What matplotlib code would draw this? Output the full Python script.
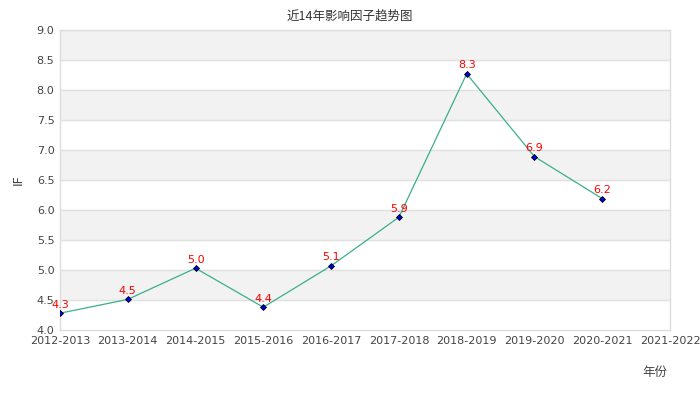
import matplotlib.pyplot as plt

plt.rcParams['font.family'] = ['DejaVu Sans', 'Noto Sans CJK SC']

years = ['2012-2013', '2013-2014', '2014-2015', '2015-2016', '2016-2017',
         '2017-2018', '2018-2019', '2019-2020', '2020-2021', '2021-2022']
impact = [4.28, 4.51, 5.03, 4.38, 5.07, 5.88, 8.27, 6.89, 6.19]
labels = ['4.3', '4.5', '5.0', '4.4', '5.1', '5.9', '8.3', '6.9', '6.2']

fig = plt.figure(figsize=(7, 4), dpi=100)
ax = fig.add_axes([60/700, 70/400, 610/700, 300/400])

# alternating bands
for lo in [4.5, 5.5, 6.5, 7.5, 8.5]:
    ax.axhspan(lo, lo + 0.5, color='#f2f2f2', zorder=0)
for y in [4.5, 5.0, 5.5, 6.0, 6.5, 7.0, 7.5, 8.0, 8.5, 9.0]:
    ax.axhline(y, color='#e0e0e0', lw=1, zorder=1)

x = list(range(len(impact)))
ax.plot(x, impact, color='#3aaf8c', lw=0.9, zorder=2)
ax.scatter(x, impact, marker='D', s=9, color='#0000ee', edgecolors='black',
           linewidths=0.6, zorder=3)
for xi, yi, t in zip(x, impact, labels):
    ax.text(xi, yi + 0.06, t, color='red', fontsize=8, ha='center', va='bottom', zorder=4)

ax.set_xlim(0, 9)
ax.set_ylim(4.0, 9.0)
ax.set_xticks(range(len(years)))
ax.set_xticklabels(years)
ax.set_yticks([4.0, 4.5, 5.0, 5.5, 6.0, 6.5, 7.0, 7.5, 8.0, 8.5, 9.0])
ax.set_yticklabels(['4.0', '4.5', '5.0', '5.5', '6.0', '6.5', '7.0', '7.5', '8.0', '8.5', '9.0'])
ax.tick_params(length=0, labelsize=8, colors='#444444', pad=4)
for s in ax.spines.values():
    s.set_color('#dddddd')
    s.set_linewidth(1)

fig.text(350/700, 1 - 16/400, '近14年影响因子趋势图', ha='center', va='center',
         fontsize=9, color='#333333', family=['Noto Sans CJK SC', 'DejaVu Sans'])
fig.text(18/700, 1 - 180/400, 'IF', ha='center', va='center', rotation=90,
         fontsize=9, color='#444444')
fig.text(655/700, 1 - 372/400, '年份', ha='center', va='center',
         fontsize=9, color='#444444', family=['Noto Sans CJK SC', 'DejaVu Sans'])

fig.savefig('out.png', dpi=100)
